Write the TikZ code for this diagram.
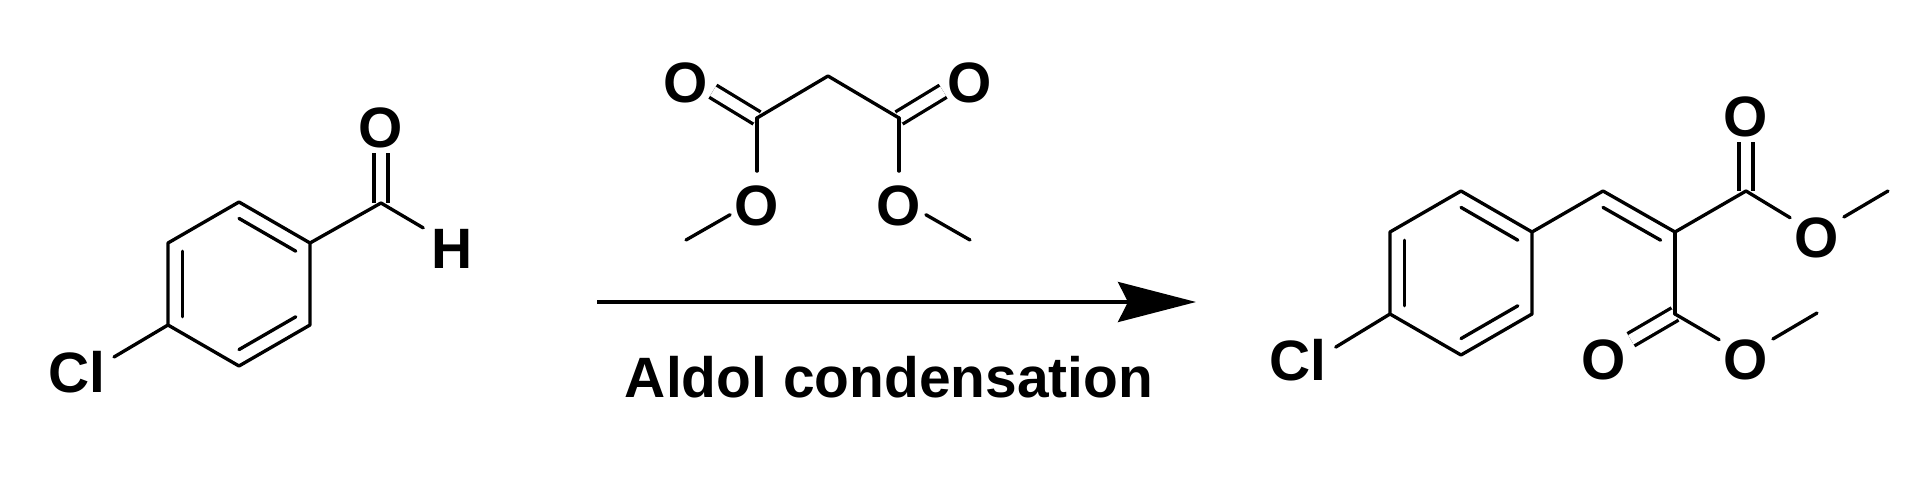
\documentclass[tikz,border=0pt]{standalone}
\usepackage{fontspec}
\setmainfont{Liberation Sans}
\usetikzlibrary{calc,arrows.meta}
\tikzset{bond/.style={line width=1.9pt, line join=round, line cap=round},
  dbl/.style={line width=1.9pt, double, double distance=6.1pt},
  atom/.style={inner sep=2.5pt, font=\fontsize{32.4}{36}\selectfont\bfseries}}

\begin{document}
\begin{tikzpicture}[x=.02cm,y=-.02cm]
\useasboundingbox (0,0) rectangle (1923,503);

% aldehyde
\coordinate (a1) at (239,202);
\coordinate (a2) at (310,243);
\coordinate (a3) at (310,325);
\coordinate (a4) at (239,366);
\coordinate (a5) at (168,325);
\coordinate (a6) at (168,243);
\coordinate (ac) at (239,284);
\coordinate (cho) at (381,203);
\node[atom] (ao) at (381,128) {O};
\node[atom] (ah) at (452,249) {H};
\node[atom] (acl) at (77,372) {Cl};
\draw[dbl] (cho) -- (ao);
\draw[bond] (a1) -- (a2) -- (a3) -- (a4) -- (a5) -- (a6) -- cycle;
\foreach \p/\q in {a1/a2,a3/a4,a5/a6}
  \draw[bond] ($(ac)!.8!(\p)$) -- ($(ac)!.8!(\q)$);
\draw[bond] (a2) -- (cho);
\draw[bond,shorten >=2.3pt] (cho) -- (ah.143);
\draw[bond,shorten >=2.5pt] (a5) -- (acl.21);

% malonate
\coordinate (m1) at (828,76);
\coordinate (m2) at (757,118);
\coordinate (m3) at (899,118);
\node[atom] (mo1) at (686,83) {O};
\node[atom] (mo2) at (970,83) {O};
\node[atom] (mo3) at (757,206) {O};
\node[atom] (mo4) at (899,206) {O};
\coordinate (me1) at (686,240);
\coordinate (me2) at (970,240);
\draw[dbl] (m2) -- (mo1.-17);
\draw[dbl] (m3) -- (mo2.197);
\draw[bond] (m2) -- (m1) -- (m3);
\draw[bond,shorten >=5.7pt] (m2) -- (mo3);
\draw[bond,shorten >=5.7pt] (m3) -- (mo4);
\draw[bond] (mo3.198) -- (me1);
\draw[bond] (mo4.-18) -- (me2);

% arrow
\coordinate (start) at (597,302);
\coordinate (end) at (1196,302);
\draw[line width=2.2pt,-{Stealth[length=1.56cm,width=.8cm,inset=.2cm]}] (start) -- (end);
\node[atom] (cond) at (889,377) {Aldol condensation};

% product
\coordinate (p1) at (1461,191);
\coordinate (p2) at (1532,232);
\coordinate (p3) at (1532,314);
\coordinate (p4) at (1461,355);
\coordinate (p5) at (1390,314);
\coordinate (p6) at (1390,232);
\coordinate (pc) at (1461,273);
\coordinate (v1) at (1603,191);
\coordinate (v2) at (1675,232);
\coordinate (vc) at (1603,273);
\coordinate (e1) at (1746,191);
\coordinate (e2) at (1675,314);
\coordinate (me3) at (1888,191);
\coordinate (me4) at (1817,313);
\node[atom] (po1) at (1746,117) {O};
\node[atom] (po2) at (1817,238) {O};
\node[atom] (po3) at (1604,360) {O};
\node[atom] (po4) at (1746,360) {O};
\node[atom] (pcl) at (1298,360) {Cl};
\draw[dbl] (e1) -- (po1);
\draw[dbl] (e2) -- (po3.37);
\draw[bond] (p1) -- (p2) -- (p3) -- (p4) -- (p5) -- (p6) -- cycle;
\foreach \p/\q in {p1/p2,p3/p4,p5/p6}
  \draw[bond] ($(pc)!.8!(\p)$) -- ($(pc)!.8!(\q)$);
\draw[bond] (p2) -- (v1) -- (v2) -- (e1);
\draw[bond] ($(vc)!.8!(v1)$) -- ($(vc)!.8!(v2)$);
\draw[bond] (v2) -- (e2);
\draw[bond] (e1) -- (po2.143);
\draw[bond] (e2) -- (po4.143);
\draw[bond] (po2.38) -- (me3);
\draw[bond] (po4.38) -- (me4);
\draw[bond,shorten >=3pt] (p5) -- (pcl.17);

\end{tikzpicture}
\end{document}
